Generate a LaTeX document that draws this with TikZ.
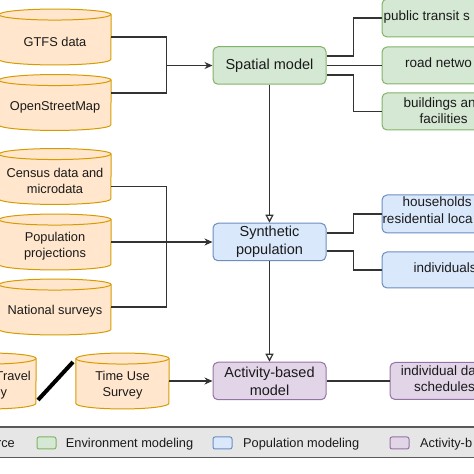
\documentclass[tikz,border=0pt]{standalone}
\usepackage{fontspec}
\setmainfont{Liberation Sans}
\usetikzlibrary{arrows.meta,calc}
\definecolor{cylfill}{HTML}{FFE6CC}
\definecolor{cylline}{HTML}{D79B00}
\definecolor{envfill}{HTML}{D5E8D4}
\definecolor{envline}{HTML}{82B366}
\definecolor{popfill}{HTML}{DAE8FC}
\definecolor{popline}{HTML}{6C8EBF}
\definecolor{actfill}{HTML}{E1D5E7}
\definecolor{actline}{HTML}{9673A6}
\definecolor{edgecol}{HTML}{333333}
\definecolor{legfill}{HTML}{E6E6E6}
\definecolor{legline}{HTML}{595959}
\definecolor{txt}{HTML}{1A1A1A}
\newcommand\cylsize{\fontsize{12.8}{16}\selectfont}
\newcommand\midsize{\fontsize{14.5}{18}\selectfont}
\newcommand\rightsize{\fontsize{13.5}{16.5}\selectfont}
\newcommand\drawcyl[2]{%
  \path[cylpaint] let \p1=(#1.north west),\p2=(#1.south east) in
    (\x1,\y1-5.5pt) -- (\x1,\y2+5.5pt)
    arc[start angle=180,end angle=360,x radius=#2pt,y radius=5.5pt]
    -- (\x2,\y1-5.5pt)
    arc[start angle=0,end angle=180,x radius=#2pt,y radius=5.5pt] -- cycle;
  \draw[cylarc] let \p1=(#1.north west) in
    (\x1,\y1-5.5pt) arc[start angle=180,end angle=360,x radius=#2pt,y radius=5.5pt];
}
\begin{document}
\begin{tikzpicture}[x=1pt,y=1pt,
  cylbox/.style={minimum width=112pt,minimum height=55.5pt,inner sep=0pt,draw=none},
  cylpaint/.style={fill=cylfill,draw=cylline,line width=1pt},
  cylarc/.style={draw=cylline,line width=1pt},
  cyltext/.style={font=\cylsize,align=center,inner sep=0pt,text=txt},
  envbox/.style={rounded corners=5pt,fill=envfill,draw=envline,line width=1pt},
  popbox/.style={rounded corners=5pt,fill=popfill,draw=popline,line width=1pt},
  actbox/.style={rounded corners=5pt,fill=actfill,draw=actline,line width=1pt},
  midbox/.style={minimum width=113pt,minimum height=37.5pt,inner sep=0pt,font=\midsize,align=center,text=txt},
  rbox/.style={minimum width=124pt,minimum height=37pt,inner sep=0pt},
  rtext/.style={font=\rightsize,inner sep=0pt,anchor=base west,text=txt},
  conn/.style={draw=edgecol,line width=1.2pt},
  arrfill/.style={conn,-{Stealth[length=8pt,width=7pt]}},
  arropen/.style={conn,-{Triangle[open,length=8pt,width=8pt]}},
  legtext/.style={font=\cylsize,inner sep=0pt,anchor=base west,text=txt},
  legsq/.style={minimum width=19pt,minimum height=12pt,inner sep=0pt,rounded corners=2pt,line width=1pt},
  legband/.style={minimum width=480pt,minimum height=30pt,inner sep=0pt,fill=legfill}
]
\useasboundingbox (0,0) rectangle (474,474);
\clip (0,0) rectangle (474,474);

% data sources (cylinders)
\node[cylbox] (gtfs) at (55,437) {};
\node[cylbox] (osm) at (55,371.5) {};
\node[cylbox] (census) at (55,297.5) {};
\node[cylbox] (popproj) at (55,232) {};
\node[cylbox] (natsurv) at (55,167) {};
\node[cylbox,minimum width=93pt] (timeuse) at (122.5,93) {};
\node[cylbox,minimum width=93pt] (travel) at (-10.5,93) {};
\drawcyl{gtfs}{56}\drawcyl{osm}{56}\drawcyl{census}{56}\drawcyl{popproj}{56}\drawcyl{natsurv}{56}\drawcyl{timeuse}{46.5}\drawcyl{travel}{46.5}
\node[cyltext] (gtfsT) at ($(gtfs)+(0,-4.5)$) {GTFS data};
\node[cyltext] (osmT) at ($(osm)+(0,-4.5)$) {OpenStreetMap};
\node[cyltext] (censusT) at ($(census)+(0,-4.5)$) {Census data and\\microdata};
\node[cyltext] (popprojT) at ($(popproj)+(0,-4.5)$) {Population\\projections};
\node[cyltext] (natsurvT) at ($(natsurv)+(0,-4.5)$) {National surveys};
\node[cyltext] (timeuseT) at ($(timeuse)+(0,-4.5)$) {Time Use\\Survey};
\node[cyltext,anchor=base east] (travelT1) at (31,93.3) {Travel};
\node[cyltext,anchor=base east] (travelT2) at (7.3,77.3) {ey};

% models
\node[midbox,envbox] (spatial) at (269.5,408.5) {Spatial model};
\node[midbox,popbox] (synth) at (269.5,232) {Synthetic\\population};
\node[midbox,actbox] (activity) at (269.5,93) {Activity-based\\model};

% outputs (right column)
\node[rbox,envbox,minimum height=38pt] (transit) at (444,456) {};
\node[rbox,envbox] (road) at (444,408.5) {};
\node[rbox,envbox] (buildings) at (444,362.5) {};
\node[rbox,popbox,minimum height=38pt] (households) at (444,260) {};
\node[rbox,popbox,minimum height=36pt] (individuals) at (444,204) {};
\node[rbox,actbox,minimum width=108pt] (daily) at (444,93) {};
\node[rtext] (transitT) at (383.3,453) {public transit s};
\node[rtext] (roadT) at (405,406) {road netwo};
\node[rtext] (buildingsT1) at (403.3,366) {buildings an};
\node[rtext] (buildingsT2) at (419.3,350) {facilities};
\node[rtext] (householdsT1) at (402.3,267) {households};
\node[rtext] (householdsT2) at (382.3,250) {residential loca};
\node[rtext] (individualsT) at (413.3,201) {individuals};
\node[rtext] (dailyT1) at (400.7,98) {individual da};
\node[rtext] (dailyT2) at (414,82) {schedules};

% connectors
\path (spatial.west) ++(-46pt,0) coordinate (j1);
\draw[conn] (gtfs.east) -| (j1) |- ($(osm.east)+(0,9.5)$);
\draw[arrfill] (j1) -- (spatial.west);
\path (synth.west) ++(-46pt,0) coordinate (j2);
\draw[conn] ($(census.east)+(0,-10)$) -| (j2) |- (natsurv.east);
\draw[arrfill] (popproj.east) -- (synth.west);
\draw[conn] ($(spatial.east)+(0,9.5)$) -- ++(27,0) |- (transit.west);
\draw[conn] (spatial.east) -- (road.west);
\draw[conn] ($(spatial.east)+(0,-9.5)$) -- ++(27,0) |- (buildings.west);
\draw[conn] ($(synth.east)+(0,9)$) -- ++(27,0) |- (households.west);
\draw[conn] ($(synth.east)+(0,-9)$) -- ++(27,0) |- (individuals.west);
\draw[arropen] (spatial.south) -- (synth.north);
\draw[arropen] (synth.south) -- (activity.north);
\draw[arrfill] (timeuse.east) -- (activity.west);
\draw[conn] (activity.east) -- (daily.west);
\coordinate (brk1) at (38,74);
\coordinate (brk2) at (73,112);
\draw[line width=4pt,black] (brk1) -- (brk2);

% legend
\node[legband] (legend) at (237,31.5) {};
\draw[legline,line width=2pt] (legend.north west) -- (legend.north east);
\draw[legline,line width=1pt] (legend.south west) -- (legend.south east);
\node[legsq,fill=envfill,draw=envline] (legenv) at (46.5,31) {};
\node[legsq,fill=popfill,draw=popline] (legpop) at (222.5,31) {};
\node[legsq,fill=actfill,draw=actline] (legact) at (399.5,31) {};
\node[legtext,anchor=base east] (legsrcT) at (15,27) {rce};
\node[legtext] (legenvT) at (65.7,27) {Environment modeling};
\node[legtext] (legpopT) at (243,27) {Population modeling};
\node[legtext] (legactT) at (420,27) {Activity-b};
\end{tikzpicture}
\end{document}
